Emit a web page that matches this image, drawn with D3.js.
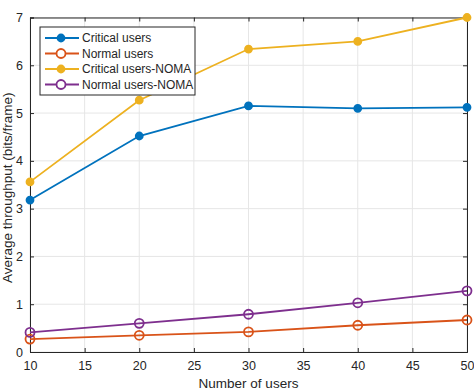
<!DOCTYPE html>
<html><head><meta charset="utf-8">
<script src="https://cdn.jsdelivr.net/npm/d3@7"></script>
<style>body{margin:0;background:#fff}svg{display:block}text{font-family:"Liberation Sans",Arial,sans-serif}</style>
</head><body><svg id="c" width="474" height="391"></svg>
<script>
const users = [10, 20, 30, 40, 50];
const criticalUsers = [3.18, 4.52, 5.15, 5.1, 5.12];
const normalUsers = [0.27, 0.35, 0.42, 0.56, 0.67];
const criticalNoma = [3.56, 5.27, 6.34, 6.5, 7.0];
const normalNoma = [0.41, 0.6, 0.79, 1.03, 1.28];
const xTicks = [10, 15, 20, 25, 30, 35, 40, 45, 50];
const yTicks = [0, 1, 2, 3, 4, 5, 6, 7];
const seriesNames = ["Critical users", "Normal users", "Critical users-NOMA", "Normal users-NOMA"];
const seriesColors = ["#0072BD", "#D95319", "#EDB120", "#7E2F8E"];
const seriesFilled = [true, false, true, false];
const seriesData = [criticalUsers, normalUsers, criticalNoma, normalNoma];

const svg = d3.select("#c");
const L = 30, R = 467, T = 17.5, B = 352;
const x = d3.scaleLinear().domain([10, 50]).range([L, R]);
const y = d3.scaleLinear().domain([0, 7]).range([B, T]);

// grid
const g = svg.append("g");
g.selectAll(".gx").data(xTicks).join("line")
  .attr("x1", d => x(d)).attr("x2", d => x(d)).attr("y1", T).attr("y2", B)
  .attr("stroke", "#e6e6e6").attr("stroke-width", 1);
g.selectAll(".gy").data(yTicks).join("line")
  .attr("y1", d => y(d)).attr("y2", d => y(d)).attr("x1", L).attr("x2", R)
  .attr("stroke", "#e6e6e6").attr("stroke-width", 1);

// axes
const ax = svg.append("g").attr("transform", `translate(0,${B})`)
  .call(d3.axisBottom(x).tickValues(xTicks).tickSize(-4).tickPadding(9).tickFormat(d3.format("d")));
const ay = svg.append("g").attr("transform", `translate(${L},0)`)
  .call(d3.axisLeft(y).tickValues(yTicks).tickSize(-4).tickPadding(7).tickFormat(d3.format("d")));
const axT = svg.append("g").attr("transform", `translate(0,${T})`)
  .call(d3.axisTop(x).tickValues(xTicks).tickSize(-4).tickFormat(""));
const ayR = svg.append("g").attr("transform", `translate(${R},0)`)
  .call(d3.axisRight(y).tickValues(yTicks).tickSize(-4).tickFormat(""));
[ax, ay, axT, ayR].forEach(a => {
  a.selectAll("path").attr("stroke", "#262626").attr("stroke-width", 1);
  a.selectAll("line").attr("stroke", "#262626");
  a.selectAll("text").attr("fill", "#262626").style("font-size", "12.5px");
});

// lines
const line = d3.line().x((d, i) => x(users[i])).y(d => y(d));
const order = [1, 3, 0, 2];
order.forEach(k => {
  svg.append("path").datum(seriesData[k]).attr("d", line)
    .attr("fill", "none").attr("stroke", seriesColors[k]).attr("stroke-width", 1.8);
  svg.selectAll(null).data(seriesData[k]).join("circle")
    .attr("cx", (d, i) => x(users[i])).attr("cy", d => y(d))
    .attr("r", seriesFilled[k] ? 3.5 : 4.5)
    .attr("fill", seriesFilled[k] ? seriesColors[k] : "none")
    .attr("stroke", seriesColors[k]).attr("stroke-width", 1.8);
});

// legend
const lg = svg.append("g");
lg.append("rect").attr("x", 40).attr("y", 27).attr("width", 155).attr("height", 68)
  .attr("fill", "#fff").attr("stroke", "#262626").attr("stroke-width", 1);
seriesNames.forEach((n, k) => {
  const yy = 38 + k * 15.5;
  lg.append("line").attr("x1", 45).attr("x2", 79).attr("y1", yy).attr("y2", yy)
    .attr("stroke", seriesColors[k]).attr("stroke-width", 1.8);
  lg.append("circle").attr("cx", 61).attr("cy", yy).attr("r", seriesFilled[k] ? 3.5 : 4.5)
    .attr("fill", seriesFilled[k] ? seriesColors[k] : "#fff")
    .attr("stroke", seriesColors[k]).attr("stroke-width", 1.8);
  lg.append("text").attr("x", 82).attr("y", yy + 4).text(n)
    .style("font-size", "12px").attr("fill", "#262626");
});

// labels
svg.append("text").attr("x", (L + R) / 2).attr("y", 388).attr("text-anchor", "middle")
  .style("font-size", "13.5px").attr("fill", "#262626").text("Number of users");
svg.append("text").attr("transform", `translate(12,${(T + B) / 2 + 3}) rotate(-90)`)
  .attr("text-anchor", "middle").style("font-size", "13.5px").attr("fill", "#262626")
  .text("Average throughput (bits/frame)");
</script></body></html>
